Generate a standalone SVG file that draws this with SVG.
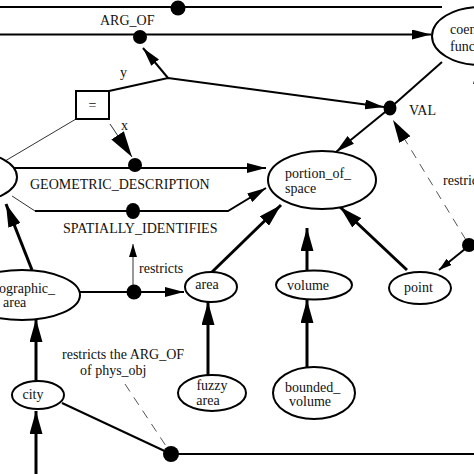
<svg xmlns="http://www.w3.org/2000/svg" width="474" height="474" viewBox="0 0 474 474">
<style>
text{font-family:"Liberation Serif","Times New Roman",serif;font-size:14px;fill:#111}
.n{fill:#fff;stroke:#000;stroke-width:2}
.d{fill:#000}
.l{fill:none;stroke:#000;stroke-width:2}
.t{fill:none;stroke:#000;stroke-width:3}
.h{fill:none;stroke:#333;stroke-width:1}
.dash{fill:none;stroke:#555;stroke-width:1;stroke-dasharray:9 7}
.m{text-anchor:middle}
</style>
<defs>
<marker id="ah" markerUnits="userSpaceOnUse" markerWidth="19" markerHeight="10" refX="19" refY="5" orient="auto"><path d="M0,0L19,5L0,10z"/></marker>
<marker id="ahb" markerUnits="userSpaceOnUse" markerWidth="23" markerHeight="13" refX="23" refY="6.5" orient="auto"><path d="M0,0L23,6.5L0,13z"/></marker>
<marker id="ahx" markerUnits="userSpaceOnUse" markerWidth="26" markerHeight="15" refX="26" refY="7.5" orient="auto"><path d="M0,0L26,7.5L0,15z"/></marker>
<marker id="ahs" markerUnits="userSpaceOnUse" markerWidth="13" markerHeight="8" refX="13" refY="4" orient="auto"><path d="M0,0L13,4L0,8z"/></marker>
</defs>
<g id="connectors">
<line class="l" x1="0" y1="7" x2="442" y2="7"/>
<line class="l" x1="0" y1="34.5" x2="431" y2="34.5" marker-end="url(#ah)"/>
<polyline class="l" points="109,91 168,78 384,107" marker-end="url(#ah)"/>
<line class="l" x1="168" y1="78" x2="143" y2="48" marker-end="url(#ah)"/>
<line class="h" x1="110" y1="124" x2="132" y2="157" marker-end="url(#ahx)"/>
<line class="h" x1="76" y1="119" x2="0" y2="164"/>
<line class="l" x1="442" y1="62" x2="390" y2="108"/>
<line class="l" x1="390" y1="108" x2="336" y2="152" marker-end="url(#ah)"/>
<line class="l" x1="10" y1="168" x2="266" y2="168" marker-end="url(#ah)"/>
<line class="h" x1="12" y1="196" x2="35" y2="211"/>
<polyline class="l" points="35,211 228,211 266,188" marker-end="url(#ah)"/>
<line class="t" x1="212" y1="272" x2="281" y2="205" marker-end="url(#ahb)"/>
<line class="t" x1="307" y1="270" x2="307" y2="228" marker-end="url(#ahb)"/>
<line class="t" x1="407" y1="270" x2="340" y2="207" marker-end="url(#ahb)"/>
<line class="t" x1="307" y1="367" x2="307" y2="300" marker-end="url(#ahb)"/>
<line class="t" x1="208" y1="375" x2="208" y2="302" marker-end="url(#ahb)"/>
<line class="t" x1="36" y1="381" x2="36" y2="319" marker-end="url(#ahb)"/>
<line class="t" x1="36" y1="474" x2="36" y2="411" marker-end="url(#ahb)"/>
<line class="t" x1="32" y1="270" x2="6" y2="204" marker-end="url(#ahb)"/>
<line class="l" x1="80" y1="292" x2="134" y2="292"/>
<line class="l" x1="134" y1="292" x2="184" y2="292" marker-end="url(#ah)"/>
<line class="h" x1="133" y1="285" x2="133" y2="244" marker-end="url(#ahs)"/>
<line class="l" x1="62" y1="403" x2="171" y2="454"/>
<line class="l" x1="171" y1="454" x2="474" y2="454"/>
<line class="dash" x1="125" y1="384" x2="166" y2="446"/>
<line class="l" x1="465" y1="249" x2="439" y2="270" marker-end="url(#ahs)"/>
<line class="dash" x1="466" y1="240" x2="393" y2="120" marker-end="url(#ahb)"/>
<line class="l" x1="482" y1="60" x2="474" y2="84" marker-end="url(#ahb)"/>
</g>
<g id="dots">
<circle class="d" cx="178" cy="8" r="7.5"/>
<circle class="d" cx="140" cy="37" r="7"/>
<ellipse class="d" cx="390" cy="108" rx="6.5" ry="7.5"/>
<circle class="d" cx="135" cy="165" r="7"/>
<ellipse class="d" cx="133" cy="211" rx="7" ry="8"/>
<circle class="d" cx="134" cy="292" r="7.5"/>
<circle class="d" cx="171" cy="454" r="8"/>
<circle class="d" cx="469" cy="245" r="7"/>
</g>
<g id="labels">
<text x="100" y="25">ARG_OF</text>
<text x="120" y="77">y</text>
<text x="121" y="130">x</text>
<text x="409" y="115">VAL</text>
<text x="30" y="189">GEOMETRIC_DESCRIPTION</text>
<text x="63" y="233">SPATIALLY_IDENTIFIES</text>
<text x="139" y="273">restricts</text>
<text x="443" y="185">restric</text>
<text x="62" y="359">restricts the ARG_OF</text>
<text x="80" y="375">of phys_obj</text>
</g>
<g id="n-left"><ellipse class="n" cx="-30" cy="177" rx="47" ry="25"/></g>
<g id="n-eq"><rect class="n" x="76" y="91" width="33" height="28" stroke-width="1.5"/><text class="m" x="92.5" y="110">=</text></g>
<g id="n-coen"><ellipse class="n" cx="480" cy="36" rx="48" ry="29"/><text x="450" y="34">coen</text><text x="450" y="51">func</text></g>
<g id="n-portion"><ellipse class="n" cx="322" cy="180" rx="54" ry="29"/><text x="285" y="178">portion_of_</text><text x="285" y="193">space</text></g>
<g id="n-area"><ellipse class="n" cx="211" cy="287" rx="26" ry="15"/><text class="m" x="207" y="289">area</text></g>
<g id="n-volume"><ellipse class="n" cx="314" cy="285" rx="38" ry="14.5"/><text x="287" y="290">volume</text></g>
<g id="n-point"><ellipse class="n" cx="420" cy="288" rx="31" ry="16"/><text x="404" y="292">point</text></g>
<g id="n-fuzzy"><ellipse class="n" cx="212" cy="393" rx="34" ry="18"/><text class="m" x="212" y="390">fuzzy</text><text class="m" x="208" y="405">area</text></g>
<g id="n-bounded"><ellipse class="n" cx="314" cy="393" rx="41" ry="26"/><text x="285" y="392">bounded_</text><text x="289" y="406">volume</text></g>
<g id="n-city"><ellipse class="n" cx="38" cy="395" rx="26" ry="14"/><text class="m" x="33" y="399">city</text></g>
<g id="n-geo"><ellipse class="n" cx="22" cy="295" rx="58" ry="25"/><text x="-1" y="293">ographic_</text><text x="3" y="307">area</text></g>
</svg>
